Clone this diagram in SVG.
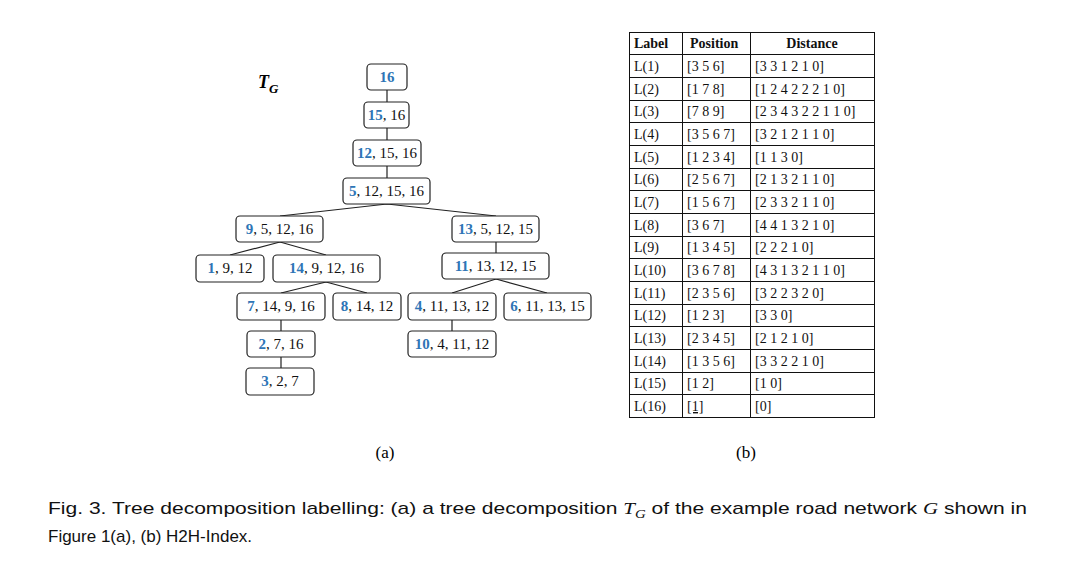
<svg xmlns="http://www.w3.org/2000/svg" width="1087" height="584" viewBox="0 0 1087 584">
<style>
.n{fill:#fff;stroke:#222;stroke-width:1.2}
.t{font-family:"Liberation Serif",serif;font-size:15px;text-anchor:middle;fill:#111}
.b{font-weight:bold;fill:#2E75B6}
.e{stroke:#222;stroke-width:1.2;fill:none}
.g{stroke:#111;stroke-width:1;fill:none}
.c{font-family:"Liberation Serif",serif;font-size:14px;fill:#111}
.h{font-weight:bold}
.cap{font-family:"Liberation Sans",sans-serif;font-size:17px;fill:#111}
</style>
<rect width="1087" height="584" fill="#fff"/>
<text x="258" y="88" font-family="Liberation Serif,serif" font-size="18" font-style="italic" font-weight="bold">T<tspan font-size="13" dy="5">G</tspan></text>
<g id="edges">
<path class="e" d="M387 90V102M387 128V140M387 166V178M387 204L280 216M387 204L496 216M280 242L230 255M280 242L326 255M326 282L281 293M326 282L367 293M496 242V253M496 279L452 293M496 279L547 293M281 320V331M281 357V368M452 320V331"/>
</g>
<g id="n16"><rect class="n" x="367" y="64" width="40" height="26" rx="4"/><text class="t" x="387" y="82"><tspan class="b">16</tspan></text></g>
<g id="n15"><rect class="n" x="364" y="102" width="45" height="26" rx="4"/><text class="t" x="386.5" y="120"><tspan class="b">15</tspan>, 16</text></g>
<g id="n12"><rect class="n" x="353" y="140" width="68" height="26" rx="4"/><text class="t" x="387" y="158"><tspan class="b">12</tspan>, 15, 16</text></g>
<g id="n5"><rect class="n" x="343" y="178" width="87" height="26" rx="4"/><text class="t" x="386.5" y="196"><tspan class="b">5</tspan>, 12, 15, 16</text></g>
<g id="n9"><rect class="n" x="236" y="216" width="87" height="26" rx="4"/><text class="t" x="279.5" y="234"><tspan class="b">9</tspan>, 5, 12, 16</text></g>
<g id="n13"><rect class="n" x="452" y="216" width="87" height="26" rx="4"/><text class="t" x="495.5" y="234"><tspan class="b">13</tspan>, 5, 12, 15</text></g>
<g id="n1"><rect class="n" x="196" y="255" width="68" height="27" rx="4"/><text class="t" x="230" y="273"><tspan class="b">1</tspan>, 9, 12</text></g>
<g id="n14"><rect class="n" x="273" y="255" width="107" height="27" rx="4"/><text class="t" x="326.5" y="273"><tspan class="b">14</tspan>, 9, 12, 16</text></g>
<g id="n11"><rect class="n" x="442" y="253" width="107" height="26" rx="4"/><text class="t" x="495.5" y="271"><tspan class="b">11</tspan>, 13, 12, 15</text></g>
<g id="n7"><rect class="n" x="237" y="293" width="88" height="27" rx="4"/><text class="t" x="281" y="311"><tspan class="b">7</tspan>, 14, 9, 16</text></g>
<g id="n8"><rect class="n" x="333" y="293" width="68" height="27" rx="4"/><text class="t" x="367" y="311"><tspan class="b">8</tspan>, 14, 12</text></g>
<g id="n4"><rect class="n" x="408" y="293" width="88" height="27" rx="4"/><text class="t" x="452" y="311"><tspan class="b">4</tspan>, 11, 13, 12</text></g>
<g id="n6"><rect class="n" x="504" y="293" width="87" height="27" rx="4"/><text class="t" x="547.5" y="311"><tspan class="b">6</tspan>, 11, 13, 15</text></g>
<g id="n2"><rect class="n" x="247" y="331" width="68" height="26" rx="4"/><text class="t" x="281" y="349"><tspan class="b">2</tspan>, 7, 16</text></g>
<g id="n10"><rect class="n" x="408" y="331" width="88" height="26" rx="4"/><text class="t" x="452" y="349"><tspan class="b">10</tspan>, 4, 11, 12</text></g>
<g id="n3"><rect class="n" x="246" y="368" width="68" height="27" rx="4"/><text class="t" x="280" y="386"><tspan class="b">3</tspan>, 2, 7</text></g>
<g id="table">
<rect class="g" x="629.5" y="32.5" width="245" height="385"/>
<path class="g" d="M682.5 32.5V417.5M750.5 32.5V417.5M629.5 54.5H874.5M629.5 77.5H874.5M629.5 100.5H874.5M629.5 122.5H874.5M629.5 145.5H874.5M629.5 168.5H874.5M629.5 190.5H874.5M629.5 213.5H874.5M629.5 236.5H874.5M629.5 258.5H874.5M629.5 281.5H874.5M629.5 304.5H874.5M629.5 326.5H874.5M629.5 349.5H874.5M629.5 372.5H874.5M629.5 394.5H874.5"/>
<text class="c h" x="634" y="48">Label</text><text class="c h" x="690" y="48">Position</text><text class="c h" x="812" y="48" text-anchor="middle">Distance</text>
<g class="c">
<text x="634" y="71">L(1)</text><text x="687" y="71">[3 5 6]</text><text x="755" y="71">[3 3 1 2 1 0]</text>
<text x="634" y="94">L(2)</text><text x="687" y="94">[1 7 8]</text><text x="755" y="94">[1 2 4 2 2 2 1 0]</text>
<text x="634" y="116">L(3)</text><text x="687" y="116">[7 8 9]</text><text x="755" y="116">[2 3 4 3 2 2 1 1 0]</text>
<text x="634" y="139">L(4)</text><text x="687" y="139">[3 5 6 7]</text><text x="755" y="139">[3 2 1 2 1 1 0]</text>
<text x="634" y="162">L(5)</text><text x="687" y="162">[1 2 3 4]</text><text x="755" y="162">[1 1 3 0]</text>
<text x="634" y="184">L(6)</text><text x="687" y="184">[2 5 6 7]</text><text x="755" y="184">[2 1 3 2 1 1 0]</text>
<text x="634" y="207">L(7)</text><text x="687" y="207">[1 5 6 7]</text><text x="755" y="207">[2 3 3 2 1 1 0]</text>
<text x="634" y="230">L(8)</text><text x="687" y="230">[3 6 7]</text><text x="755" y="230">[4 4 1 3 2 1 0]</text>
<text x="634" y="252">L(9)</text><text x="687" y="252">[1 3 4 5]</text><text x="755" y="252">[2 2 2 1 0]</text>
<text x="634" y="275">L(10)</text><text x="687" y="275">[3 6 7 8]</text><text x="755" y="275">[4 3 1 3 2 1 1 0]</text>
<text x="634" y="298">L(11)</text><text x="687" y="298">[2 3 5 6]</text><text x="755" y="298">[3 2 2 3 2 0]</text>
<text x="634" y="320">L(12)</text><text x="687" y="320">[1 2 3]</text><text x="755" y="320">[3 3 0]</text>
<text x="634" y="343">L(13)</text><text x="687" y="343">[2 3 4 5]</text><text x="755" y="343">[2 1 2 1 0]</text>
<text x="634" y="366">L(14)</text><text x="687" y="366">[1 3 5 6]</text><text x="755" y="366">[3 3 2 2 1 0]</text>
<text x="634" y="388">L(15)</text><text x="687" y="388">[1 2]</text><text x="755" y="388">[1 0]</text>
<text x="634" y="411">L(16)</text><text x="687" y="411" text-decoration="underline">[1]</text><text x="755" y="411">[0]</text>
</g>
</g>
<text x="385" y="458" font-family="Liberation Serif,serif" font-size="17" text-anchor="middle">(a)</text>
<text x="746" y="458" font-family="Liberation Serif,serif" font-size="17" text-anchor="middle">(b)</text>
<text class="cap" x="48" y="514" textLength="979" lengthAdjust="spacingAndGlyphs">Fig. 3.  Tree decomposition labelling: (a) a tree decomposition <tspan font-family="Liberation Serif,serif" font-style="italic">T<tspan font-size="12" dy="4">G</tspan></tspan><tspan dy="-4"> of the example road network </tspan><tspan font-family="Liberation Serif,serif" font-style="italic">G</tspan> shown in</text>
<text class="cap" x="48" y="542">Figure 1(a), (b) H2H-Index.</text>
</svg>
